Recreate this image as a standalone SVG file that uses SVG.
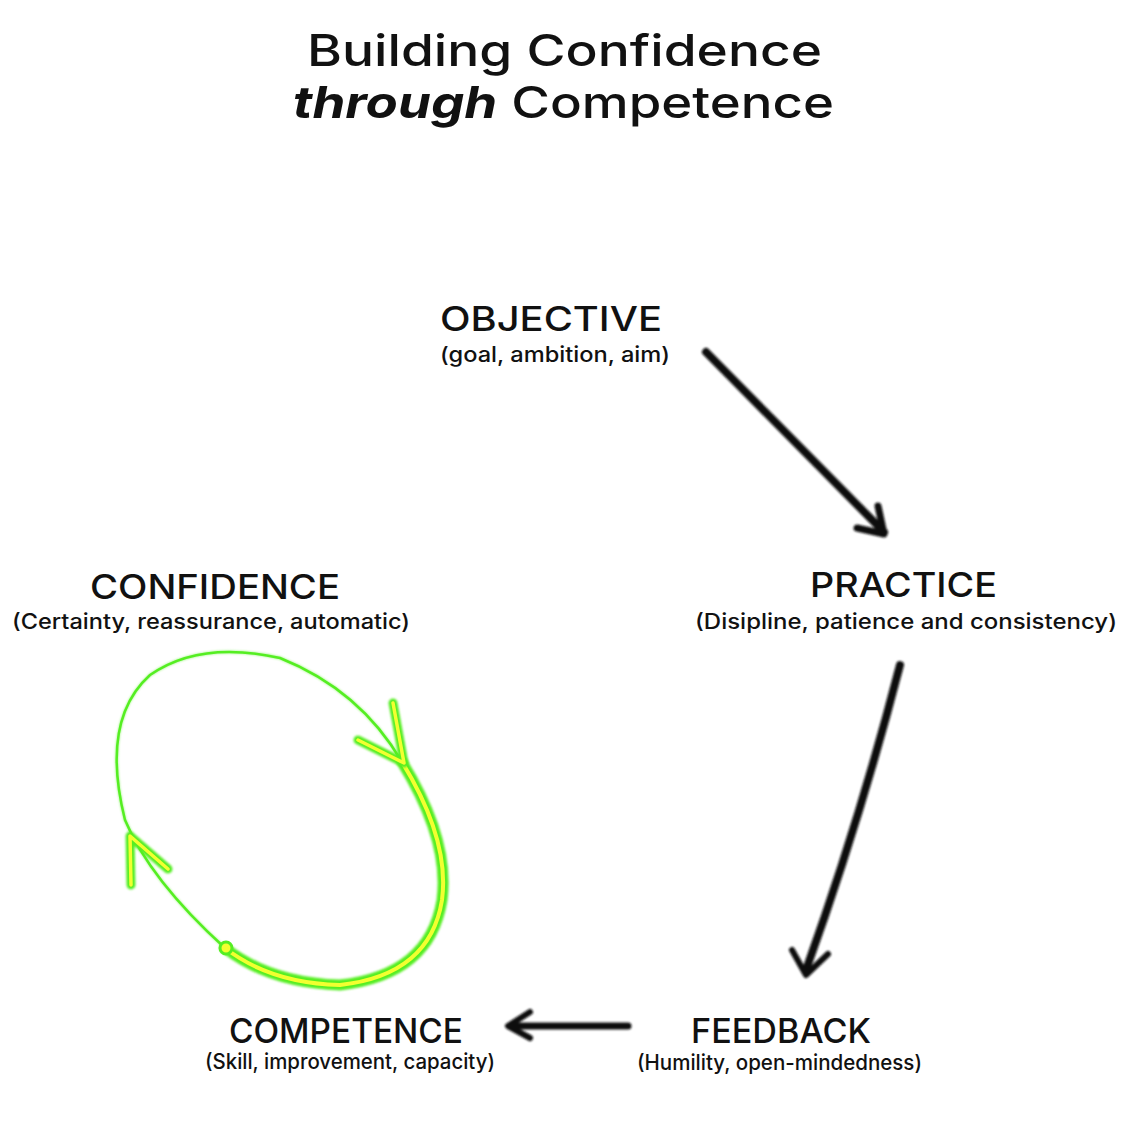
<svg xmlns="http://www.w3.org/2000/svg" width="1134" height="1129" viewBox="0 0 1134 1129">
<style>
.t{font-family:"Inter","Liberation Sans",sans-serif;fill:#111}
.h{font-size:44px;font-weight:500}
.n{font-size:34px;font-weight:500}
.s{font-size:21px;font-weight:500}
.bk{stroke:#111;fill:none;stroke-linecap:round;stroke-linejoin:round}
.gg{stroke:#55ee22;fill:none;stroke-linecap:round;stroke-linejoin:round}
.gy{stroke:#f2ff30;fill:none;stroke-linecap:round;stroke-linejoin:round}
</style>
<defs><filter id="bl"><feGaussianBlur stdDeviation="1.2"/></filter></defs>
<rect width="1134" height="1129" fill="#fff"/>
<text class="t h" x="307" y="66" textLength="515" lengthAdjust="spacingAndGlyphs">Building Confidence</text>
<text class="t h" x="293" y="118" textLength="541" lengthAdjust="spacingAndGlyphs"><tspan font-style="italic" font-weight="700">through</tspan> Competence</text>
<g id="objective"><text class="t n" x="440" y="331" textLength="222" lengthAdjust="spacingAndGlyphs">OBJECTIVE</text><text class="t s" x="440" y="362" textLength="230" lengthAdjust="spacingAndGlyphs">(goal, ambition, aim)</text></g>
<g id="practice"><text class="t n" x="810" y="597" textLength="187" lengthAdjust="spacingAndGlyphs">PRACTICE</text><text class="t s" x="695" y="629" textLength="422" lengthAdjust="spacingAndGlyphs">(Disipline, patience and consistency)</text></g>
<g id="feedback"><text class="t n" x="691" y="1043" textLength="180" lengthAdjust="spacingAndGlyphs">FEEDBACK</text><text class="t s" x="637" y="1070" textLength="285" lengthAdjust="spacingAndGlyphs">(Humility, open-mindedness)</text></g>
<g id="competence"><text class="t n" x="229" y="1043" textLength="234" lengthAdjust="spacingAndGlyphs">COMPETENCE</text><text class="t s" x="205" y="1069" textLength="290" lengthAdjust="spacingAndGlyphs">(Skill, improvement, capacity)</text></g>
<g id="confidence"><text class="t n" x="90" y="599" textLength="250" lengthAdjust="spacingAndGlyphs">CONFIDENCE</text><text class="t s" x="12" y="629" textLength="398" lengthAdjust="spacingAndGlyphs">(Certainty, reassurance, automatic)</text></g>
<g id="connectors">
<g filter="url(#bl)">
<path class="bk" stroke-width="8" d="M706 352 L884 532"/>
<path class="bk" stroke-width="7" d="M857 528 L884 534 L878 506"/>
<path class="bk" stroke-width="8" d="M900 665 Q860 820 806 970"/>
<path class="bk" stroke-width="6" d="M792 950 L806 975 L828 954"/>
<path class="bk" stroke-width="7" d="M628 1026 L512 1026"/>
<path class="bk" stroke-width="6" d="M530 1012 L508 1026 L530 1038"/>
</g>
<g>
<path class="gg" stroke-width="3" opacity="0.5" filter="url(#bl)" d="M225 948 Q150 880 125 820 Q100 720 150 675 Q200 640 280 658 Q360 690 402 762"/>
<path class="gg" stroke-width="2.5" d="M225 948 Q150 880 125 820 Q100 720 150 675 Q200 640 280 658 Q360 690 402 762"/>
<path class="gg" stroke-width="11" filter="url(#bl)" d="M402 762 Q450 840 442 900 Q430 975 340 985 Q270 983 225 948"/>
<path class="gy" stroke-width="4" d="M402 762 Q450 840 442 900 Q430 975 340 985 Q270 983 225 948"/>
<path class="gg" stroke-width="9" filter="url(#bl)" d="M393 703 L404 763 L358 740 M131 885 L130 836 L168 869"/>
<path class="gy" stroke-width="3.5" d="M393 703 L404 763 L358 740 M131 885 L130 836 L168 869"/>
<circle cx="226" cy="948" r="6" fill="#f2ff30" stroke="#55ee22" stroke-width="3"/>
</g>
</g>
</svg>
